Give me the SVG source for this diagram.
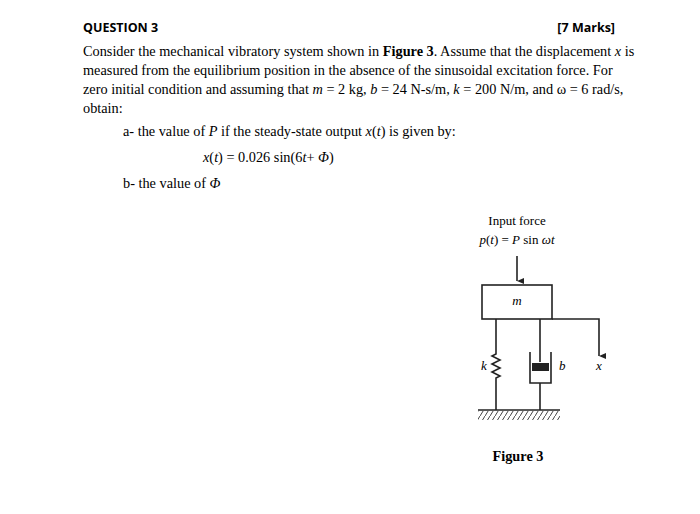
<svg xmlns="http://www.w3.org/2000/svg" width="700" height="514" viewBox="0 0 700 514">
<style>
.h{font-family:"Open Sans","Liberation Sans",sans-serif;font-weight:bold;font-size:12.5px}
.t{font-family:"Liberation Serif",serif;font-size:14.3px}
.f{font-family:"Liberation Serif",serif;font-size:13px}
.ln{stroke:#222;stroke-width:1.6;fill:none}
</style>
<defs><marker id="ar" markerWidth="8" markerHeight="8" refX="4" refY="7" orient="auto" markerUnits="userSpaceOnUse"><path d="M1,0 L4,7 L7,0 Z" fill="#222"/></marker>
<pattern id="hatch" width="5" height="8" patternUnits="userSpaceOnUse"><path d="M5,0 L0,8" stroke="#444" stroke-width="1"/></pattern></defs>
<rect width="700" height="514" fill="#fff"/>
<g id="text">
<text class="h" x="83" y="32">QUESTION 3</text>
<text class="h" x="615" y="32" text-anchor="end">[7 Marks]</text>
<text class="t" x="83" y="56">Consider the mechanical vibratory system shown in <tspan font-weight="bold">Figure 3</tspan>. Assume that the displacement <tspan font-style="italic">x</tspan> is</text>
<text class="t" x="83" y="75">measured from the equilibrium position in the absence of the sinusoidal excitation force. For</text>
<text class="t" x="83" y="94">zero initial condition and assuming that <tspan font-style="italic">m</tspan> = 2 kg, <tspan font-style="italic">b</tspan> = 24 N-s/m, <tspan font-style="italic">k</tspan> = 200 N/m, and ω = 6 rad/s,</text>
<text class="t" x="83" y="113">obtain:</text>
<text class="t" x="123" y="136">a-   the value of <tspan font-style="italic">P</tspan> if the steady-state output <tspan font-style="italic">x</tspan>(<tspan font-style="italic">t</tspan>) is given by:</text>
<text class="t" x="203" y="162"><tspan font-style="italic">x</tspan>(<tspan font-style="italic">t</tspan>) = 0.026 sin(6<tspan font-style="italic">t</tspan>+ <tspan font-style="italic">Φ</tspan>)</text>
<text class="t" x="123" y="188">b-   the value of <tspan font-style="italic">Φ</tspan></text>
</g>
<g id="figure">
<text class="f" x="517" y="225" text-anchor="middle" font-family="Liberation Sans,sans-serif" font-size="13">Input force</text>
<text class="f" x="517" y="244" text-anchor="middle"><tspan font-style="italic">p</tspan>(<tspan font-style="italic">t</tspan>) = <tspan font-style="italic">P</tspan> sin <tspan font-style="italic">ωt</tspan></text>
<g id="mass"><rect x="482" y="285" width="70" height="34" class="ln"/><text class="f" x="517" y="305" text-anchor="middle" font-style="italic" font-size="12">m</text></g>
<g id="spring"><path class="ln" d="M496,319 V354 L492,356 L500,360 L492,364 L500,368 L492,372 L500,376 L496,378 V410"/><text class="f" x="481" y="370" font-style="italic">k</text></g>
<g id="damper"><path class="ln" d="M540,319 V362 M530,352 V383 H551 V352 M540,383 V410"/><rect x="532" y="363" width="17" height="8" fill="#222"/><text class="f" x="559" y="370" font-style="italic">b</text></g>
<g id="ground"><rect x="478" y="411" width="82" height="9" fill="url(#hatch)"/><path class="ln" d="M478,410 H560"/></g>
<g id="connectors"><path class="ln" d="M517,256 V281" marker-end="url(#ar)"/><path class="ln" d="M552,319 H599 V356" marker-end="url(#ar)"/></g>
<text class="f" x="599" y="370" text-anchor="middle" font-style="italic">x</text>
<text class="t" x="518" y="461" text-anchor="middle" font-weight="bold" font-size="13.5">Figure 3</text>
</g>
</svg>
